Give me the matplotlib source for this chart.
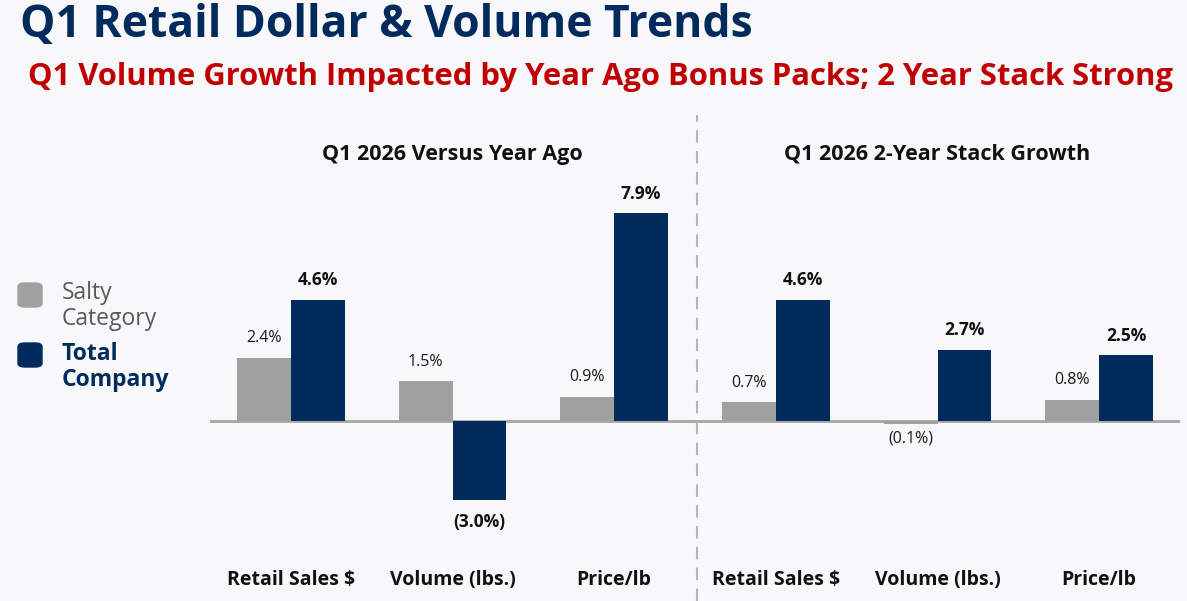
import matplotlib.pyplot as plt
from matplotlib.patches import FancyBboxPatch

plt.rcParams['font.family'] = ['Open Sans', 'DejaVu Sans']

# data
categories = ['Retail Sales $', 'Volume (lbs.)', 'Price/lb']
panel_titles = ['Q1 2026 Versus Year Ago', 'Q1 2026 2-Year Stack Growth']
salty_yoy = [2.4, 1.5, 0.9]
total_yoy = [4.6, -3.0, 7.9]
salty_stack = [0.7, -0.1, 0.8]
total_stack = [4.6, 2.7, 2.5]

NAVY = '#002b5c'
GRAY = '#a0a0a0'
BG = '#f8f8fb'

W, H = 1187, 601
fig = plt.figure(figsize=(W / 100, H / 100), dpi=100, facecolor=BG)

def fmt(v):
    return f'({abs(v):.1f}%)' if v < 0 else f'{v:.1f}%'

ymin, ymax = -4.0, 8.5
ax_bottom = 75 / H
ax_height = 328.5 / H
panels = [(210, salty_yoy, total_yoy), (695, salty_stack, total_stack)]
w = 0.334
for i, (left, salty, total) in enumerate(panels):
    ax = fig.add_axes([left / W, ax_bottom, 485 / W, ax_height])
    ax.set_facecolor('none')
    x = list(range(len(categories)))
    ax.bar([p - w / 2 for p in x], salty, width=w, color=GRAY)
    ax.bar([p + w / 2 for p in x], total, width=w, color=NAVY)
    for p, v in zip(x, salty):
        off = 0.45 if v >= 0 else -0.25
        ax.text(p - w / 2, v + off, fmt(v), ha='center',
                va='bottom' if v >= 0 else 'top', fontsize=11.5, color='#1a1a1a')
    for p, v in zip(x, total):
        off = 0.4 if v >= 0 else -0.5
        ax.text(p + w / 2, v + off, fmt(v), ha='center',
                va='bottom' if v >= 0 else 'top', fontsize=12.5,
                fontweight='bold', color='#111111')
    ax.axhline(0, color='#a6a6a6', lw=2, zorder=0)
    ax.set_xlim(-0.5, 2.5)
    ax.set_ylim(ymin, ymax)
    ax.axis('off')
    for p, c in zip(x, categories):
        ax.text(p, -6.05, c, ha='center', va='center', fontsize=14,
                fontweight='bold', color='#111111', clip_on=False)
    ax.text(1.0, 10.15, panel_titles[i], ha='center',
            va='center', fontsize=15.5, fontweight='bold', color='#111111')

# divider
fig.add_artist(plt.Line2D([697 / W, 697 / W], [0, 1 - 115 / H],
                          color='#b5b5b5', lw=1.5, ls=(0, (6, 4))))

# titles
fig.text(20 / W, 1 - 26 / H, 'Q1 Retail Dollar & Volume Trends', fontsize=32,
         fontweight='bold', color=NAVY, va='center', ha='left')
fig.text(28 / W, 1 - 77 / H,
         'Q1 Volume Growth Impacted by Year Ago Bonus Packs; 2 Year Stack Strong',
         fontsize=22.3, fontweight='bold', color='#c00000', va='center', ha='left')

# legend
for y0, col in [(283, GRAY), (343, NAVY)]:
    fig.add_artist(FancyBboxPatch((18 / W, 1 - (y0 + 24) / H), 24 / W, 24 / H,
                                  boxstyle='round,pad=0,rounding_size=0.006',
                                  transform=fig.transFigure, color=col))
fig.text(62 / W, 1 - 306 / H, 'Salty\nCategory', fontsize=16.5, color='#595959',
         va='center', ha='left', linespacing=1.1)
fig.text(62 / W, 1 - 367 / H, 'Total\nCompany', fontsize=16.5, color=NAVY,
         fontweight='bold', va='center', ha='left', linespacing=1.1)

fig.savefig('out.png', dpi=100, facecolor=BG)
